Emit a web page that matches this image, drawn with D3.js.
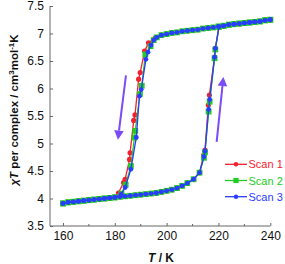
<!DOCTYPE html>
<html><head><meta charset="utf-8">
<script src="https://cdn.jsdelivr.net/npm/d3@7"></script>
<style>
html,body{margin:0;padding:0;background:#fff;}
svg{display:block;font-family:"Liberation Sans",Arial,sans-serif;}
</style></head>
<body><svg id="c" width="285" height="264"></svg>
<script>
// ---- data ----
const xTicks = [160, 180, 200, 220, 240];
const xMinorTicks = [170, 190, 210, 230];
const yTicks = [3.5, 4, 4.5, 5, 5.5, 6, 6.5, 7, 7.5];
const seriesNames = ["Scan 1", "Scan 2", "Scan 3"];
const seriesColors = ["#f5202e", "#22cc22", "#2a3cff"];

const scan1HeatT = [160,162,164,166,168,170,172,174,176,178,180,182,184,186,188,190,192,194,196,198,200,202,204,206,208,210.4,212.7,214.3,214.8,216.1,216.5,218.5,218.8,220.2,222,224,226,228,230,232,234,236,238,240];
const scan1HeatChi = [3.91,3.93,3.94,3.95,3.96,3.97,3.98,3.99,4.00,4.01,4.02,4.03,4.04,4.05,4.06,4.07,4.08,4.09,4.10,4.12,4.14,4.16,4.19,4.23,4.28,4.35,4.47,4.79,4.88,5.70,5.88,6.57,6.73,7.12,7.14,7.16,7.17,7.18,7.19,7.20,7.21,7.22,7.24,7.25];
const scan1CoolT = [240,238,236,234,232,230,228,226,224,222,220,218,216,214,212,210,208,206,204,202,200,198,195.6,193,191.5,189.8,189.2,187.8,187.3,185.9,185.7,184,183.4,181.4,180,178,176,174,172,170,168,166,164,162,160];
const scan1CoolChi = [7.25,7.24,7.22,7.21,7.20,7.19,7.18,7.17,7.16,7.14,7.13,7.11,7.10,7.09,7.07,7.06,7.05,7.04,7.02,7.01,6.99,6.97,6.92,6.83,6.68,6.29,6.17,5.52,5.42,4.83,4.71,4.35,4.29,4.10,4.02,4.01,4.00,3.99,3.98,3.97,3.96,3.95,3.94,3.93,3.91];

const scan2HeatT = [160,162,164,166,168,170,172,174,176,178,180,182,184,186,188,190,192,194,196,198,200,202,204,206,208,210.4,212.7,214.4,214.8,216.2,216.6,218.5,218.8,220.2,222,224,226,228,230,232,234,236,238,240];
const scan2HeatChi = [3.91,3.93,3.94,3.95,3.96,3.97,3.98,3.99,4.00,4.01,4.02,4.03,4.04,4.05,4.06,4.07,4.08,4.09,4.10,4.12,4.14,4.16,4.19,4.23,4.28,4.35,4.47,4.74,4.84,5.58,5.76,6.55,6.71,7.12,7.14,7.16,7.17,7.18,7.19,7.20,7.21,7.22,7.24,7.25];
const scan2CoolT = [240,238,236,234,232,230,228,226,224,222,220,218,216,214,212,210,208,206,204,202,200,198,196.2,195,193.8,191.8,190.4,189.7,187.9,187.6,186.2,184.2,182.6,180,178,176,174,172,170,168,166,164,162,160];
const scan2CoolChi = [7.25,7.24,7.22,7.21,7.20,7.19,7.18,7.17,7.16,7.14,7.13,7.11,7.10,7.09,7.07,7.06,7.05,7.04,7.02,7.01,6.99,6.97,6.93,6.88,6.77,6.62,6.05,5.90,5.23,5.11,4.59,4.25,4.09,4.02,4.01,4.00,3.99,3.98,3.97,3.96,3.95,3.94,3.93,3.91];

const scan3HeatT = [160,162,164,166,168,170,172,174,176,178,180,182,184,186,188,190,192,194,196,198,200,202,204,206,208,210.4,212.7,214.4,214.8,216.2,216.6,218.5,218.8,220.2,222,224,226,228,230,232,234,236,238,240];
const scan3HeatChi = [3.91,3.93,3.94,3.95,3.96,3.97,3.98,3.99,4.00,4.01,4.02,4.03,4.04,4.05,4.06,4.07,4.08,4.09,4.10,4.12,4.14,4.16,4.19,4.23,4.28,4.35,4.47,4.76,4.86,5.62,5.80,6.57,6.73,7.12,7.14,7.16,7.17,7.18,7.19,7.20,7.21,7.22,7.24,7.25];
const scan3CoolT = [240,238,236,234,232,230,228,226,224,222,220,218,216,214,212,210,208,206,204,202,200,198,196.2,195,194,192.8,192,190.2,189.5,188.3,186.2,184,182.5,180,178,176,174,172,170,168,166,164,162,160];
const scan3CoolChi = [7.25,7.24,7.22,7.21,7.20,7.19,7.18,7.17,7.16,7.14,7.13,7.11,7.10,7.09,7.07,7.06,7.05,7.04,7.02,7.01,6.99,6.97,6.93,6.88,6.79,6.66,6.53,5.98,5.86,5.11,4.53,4.20,4.08,4.02,4.01,4.00,3.99,3.98,3.97,3.96,3.95,3.94,3.93,3.91];

// arrows (data coordinates: [T, chiT] start -> tip)
const arrowCoolFrom = [184.3, 6.24], arrowCoolTo = [181.2, 5.07];
const arrowHeatFrom = [219.3, 5.03], arrowHeatTo = [221.9, 6.21];

// ---- drawing ----
const svg = d3.select("#c");
const x = d3.scaleLinear().domain([155, 240]).range([50, 270.3]);
const y = d3.scaleLinear().domain([3.5, 7.5]).range([226, 6]);
const axisColor = "#666";

const series = [
  {heat: [scan1HeatT, scan1HeatChi], cool: [scan1CoolT, scan1CoolChi], shape: "circle", r: 2.6},
  {heat: [scan2HeatT, scan2HeatChi], cool: [scan2CoolT, scan2CoolChi], shape: "square", r: 2.9},
  {heat: [scan3HeatT, scan3HeatChi], cool: [scan3CoolT, scan3CoolChi], shape: "circle", r: 2.4}
];
const zip = (a) => a[0].map((t, i) => [t, a[1][i]]);
const line = d3.line().x(d => x(d[0])).y(d => y(d[1]));

function marker(g, shape, r, color, cx, cy) {
  if (shape === "circle") g.append("circle").attr("cx", cx).attr("cy", cy).attr("r", r).attr("fill", color);
  else g.append("rect").attr("x", cx - r).attr("y", cy - r).attr("width", 2 * r).attr("height", 2 * r).attr("fill", color);
}

// axes
const gx = svg.append("g").attr("transform", `translate(0,${y(3.5)})`)
  .call(d3.axisBottom(x).tickValues(xTicks).tickSize(-3).tickPadding(5).tickFormat(d3.format("d")));
gx.append("g").selectAll("line").data(xMinorTicks).join("line")
  .attr("x1", d => x(d)).attr("x2", d => x(d)).attr("y1", 0).attr("y2", -2).attr("stroke", axisColor);
const gy = svg.append("g").attr("transform", "translate(50,0)")
  .call(d3.axisLeft(y).tickValues(yTicks).tickSize(-3).tickPadding(6).tickFormat(d => String(d)));
[gx, gy].forEach(g => {
  g.select(".domain").attr("stroke", axisColor).attr("stroke-width", 1);
  g.selectAll(".tick line").attr("stroke", axisColor);
  g.selectAll("text").attr("font-size", 12).attr("fill", "#111").attr("font-family", "Liberation Sans, Arial, sans-serif");
});
gx.select(".domain").attr("d", `M${x(155)},0H${x(240)}`);
gy.select(".domain").attr("d", `M0,${y(3.5)}V${y(7.5)}`);

// data
series.forEach((s, i) => {
  const g = svg.append("g");
  [s.heat, s.cool].forEach(br => {
    g.append("path").datum(zip(br)).attr("d", line).attr("fill", "none")
      .attr("stroke", seriesColors[i]).attr("stroke-width", 1.3);
  });
  [s.heat, s.cool].forEach(br => {
    zip(br).forEach(p => marker(g, s.shape, s.r, seriesColors[i], x(p[0]), y(p[1])));
  });
});

// arrows
const arrowColor = "#7a4cf7";
function arrow(from, to) {
  const x1 = x(from[0]), y1 = y(from[1]), x2 = x(to[0]), y2 = y(to[1]);
  const ang = Math.atan2(y2 - y1, x2 - x1);
  const hl = 9, hw = 4.8;
  const bx = x2 - hl * Math.cos(ang), by = y2 - hl * Math.sin(ang);
  svg.append("line").attr("x1", x1).attr("y1", y1).attr("x2", bx).attr("y2", by)
    .attr("stroke", arrowColor).attr("stroke-width", 2);
  const px = -Math.sin(ang), py = Math.cos(ang);
  svg.append("path").attr("d", `M${x2},${y2}L${bx + px * hw},${by + py * hw}L${bx - px * hw},${by - py * hw}Z`)
    .attr("fill", arrowColor);
}
arrow(arrowCoolFrom, arrowCoolTo);
arrow(arrowHeatFrom, arrowHeatTo);

// legend
const lg = svg.append("g");
seriesNames.forEach((n, i) => {
  const cy = 164.3 + i * 16.2;
  lg.append("line").attr("x1", 225).attr("x2", 247).attr("y1", cy).attr("y2", cy)
    .attr("stroke", seriesColors[i]).attr("stroke-width", 1.3);
  marker(lg, series[i].shape, i === 1 ? 2.6 : 2.2, seriesColors[i], 236, cy);
  lg.append("text").attr("x", 248.5).attr("y", cy + 4).attr("font-size", 11)
    .attr("fill", seriesColors[i]).text(n);
});

// axis titles
const xt = svg.append("text").attr("x", 161).attr("y", 261.5).attr("text-anchor", "middle")
  .attr("font-size", 12).attr("font-weight", "bold").attr("fill", "#111");
xt.append("tspan").attr("font-style", "italic").text("T");
xt.append("tspan").text(" / K");

const yt = svg.append("text").attr("transform", "translate(18,110) rotate(-90)")
  .attr("text-anchor", "middle").attr("font-size", 11.5).attr("font-weight", "bold").attr("fill", "#111");
yt.append("tspan").attr("font-style", "italic").text("χT");
yt.append("tspan").text(" per complex / cm");
yt.append("tspan").attr("font-size", 8).attr("dy", -4).text("3");
yt.append("tspan").attr("dy", 4).text("mol");
yt.append("tspan").attr("font-size", 8).attr("dy", -4).text("-1");
yt.append("tspan").attr("dy", 4).text("K");
</script></body></html>
